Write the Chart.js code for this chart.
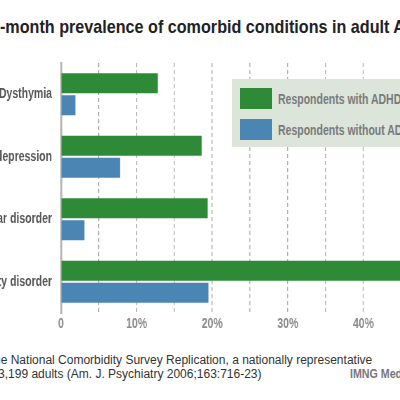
<!DOCTYPE html>
<html>
<head>
<meta charset="utf-8">
<script src="https://cdn.jsdelivr.net/npm/chart.js@4.4.0/dist/chart.umd.min.js"></script>
<style>
html, body { margin: 0; padding: 0; width: 400px; height: 400px; overflow: hidden; background: #fff; }
/* the reference is a crop of a wider graphic, so the frame is shifted left */
#frame { position: absolute; left: -100px; top: 0; width: 600px; height: 400px; }
/* no condensed face installed: draw wide and squeeze horizontally */
#chartBox { position: absolute; left: 0; top: 0; width: 860px; height: 340px; transform: scaleX(0.7); transform-origin: 0 0; }
.narrow { font-family: 'Liberation Sans', Arial, sans-serif; font-weight: bold; }
.squeeze { display: inline-block; transform-origin: 0 50%; }
#title { position: absolute; left: 82px; top: 18px; font-size: 19px; line-height: 18px; color: #222; white-space: nowrap; }
#title .squeeze { transform: scaleX(0.85); }
#legend { position: absolute; left: 332px; top: 79px; width: 260px; height: 68px; background: #dbe5da; }
.item { position: absolute; left: 8px; height: 21px; line-height: 21px; font-size: 15px; color: #7a7a7a; white-space: nowrap; }
.item .squeeze { transform: scaleX(0.7); }
.sw { display: inline-block; width: 32px; height: 21px; vertical-align: top; margin-right: 6px; }
#foot { position: absolute; left: 46px; top: 353px; font-family: 'Liberation Sans', Arial, sans-serif; font-size: 12px; line-height: 14px; color: #333; white-space: nowrap; }
#credit { position: absolute; left: 450px; top: 367px; font-size: 13px; line-height: 14px; color: #777; white-space: nowrap; }
#credit .squeeze { transform: scaleX(0.82); }
</style>
</head>
<body>
<div id="frame">
  <div id="title" class="narrow"><span class="squeeze">12-month prevalence of comorbid conditions in adult ADHD</span></div>
  <div id="chartBox"><canvas id="chart"></canvas></div>
  <div id="legend"></div>
  <div id="foot">Source: the National Comorbidity Survey Replication, a nationally representative<br>survey of 3,199 adults (Am. J. Psychiatry 2006;163:716-23)</div>
  <div id="credit" class="narrow"><span class="squeeze">IMNG Medical Media</span></div>
</div>
<script>
// Data (percent of respondents)
const categories = ['Dysthymia', 'Major depression', 'Bipolar disorder', 'Any anxiety disorder'];
const withAdhd = [12.8, 18.6, 19.4, 47.1];
const withoutAdhd = [1.9, 7.8, 3.1, 19.5];
const seriesNames = ['Respondents with ADHD', 'Respondents without ADHD'];
const seriesColors = ['#2f8a37', '#4a85b3'];

const labelFont = "'Liberation Sans', Arial, sans-serif";
const sq = 0.7;    // horizontal squeeze of the chart canvas
const boxW = 860;  // unsqueezed canvas width

// HTML legend built from the series
const legend = document.getElementById('legend');
seriesNames.forEach((name, i) => {
    const item = document.createElement('div');
    item.className = 'item narrow';
    item.style.top = (9 + i * 31) + 'px';
    item.innerHTML = '<span class="sw" style="background:' + seriesColors[i] + '"></span><span class="squeeze">' + name + '</span>';
    legend.appendChild(item);
});

const ctx = document.getElementById('chart').getContext('2d');
new Chart(ctx, {
    type: 'bar',
    data: {
        labels: categories,
        datasets: [
            {
                label: seriesNames[0],
                data: withAdhd,
                backgroundColor: seriesColors[0],
                categoryPercentage: 0.704,
                barPercentage: 0.91
            },
            {
                label: seriesNames[1],
                data: withoutAdhd,
                backgroundColor: seriesColors[1],
                categoryPercentage: 0.704,
                barPercentage: 0.91
            }
        ]
    },
    options: {
        indexAxis: 'y',
        responsive: true,
        maintainAspectRatio: false,
        animation: false,
        layout: {
            padding: { top: 63, right: boxW - 539 / sq, left: 0, bottom: 0 }
        },
        scales: {
            x: {
                min: 0,
                max: 50,
                ticks: {
                    stepSize: 5,
                    padding: 2,
                    autoSkip: false,
                    maxRotation: 0,
                    minRotation: 0,
                    color: '#8a8a8a',
                    font: { family: labelFont, size: 15, weight: 'bold' },
                    callback: function(value) {
                        if (value % 10 !== 0) return '';
                        return value === 0 ? '0' : value + '%';
                    }
                },
                grid: {
                    drawTicks: false,
                    lineWidth: 1 / sq,
                    color: function(c) {
                        return c.tick && c.tick.value === 0 ? 'rgba(0,0,0,0)' : '#adadad';
                    }
                },
                border: { display: false, dash: [4, 3] },
                afterFit: function(axis) { axis.height = 27; }
            },
            y: {
                ticks: {
                    padding: 9 / sq,
                    color: '#555',
                    font: { family: labelFont, size: 15, weight: 'bold' }
                },
                grid: { display: false, drawTicks: false },
                border: { display: true, color: '#b5b5b5', width: 2 / sq },
                afterFit: function(axis) { axis.width = 161 / sq; }
            }
        },
        plugins: {
            legend: { display: false },
            tooltip: { enabled: false }
        }
    }
});
</script>
</body>
</html>
